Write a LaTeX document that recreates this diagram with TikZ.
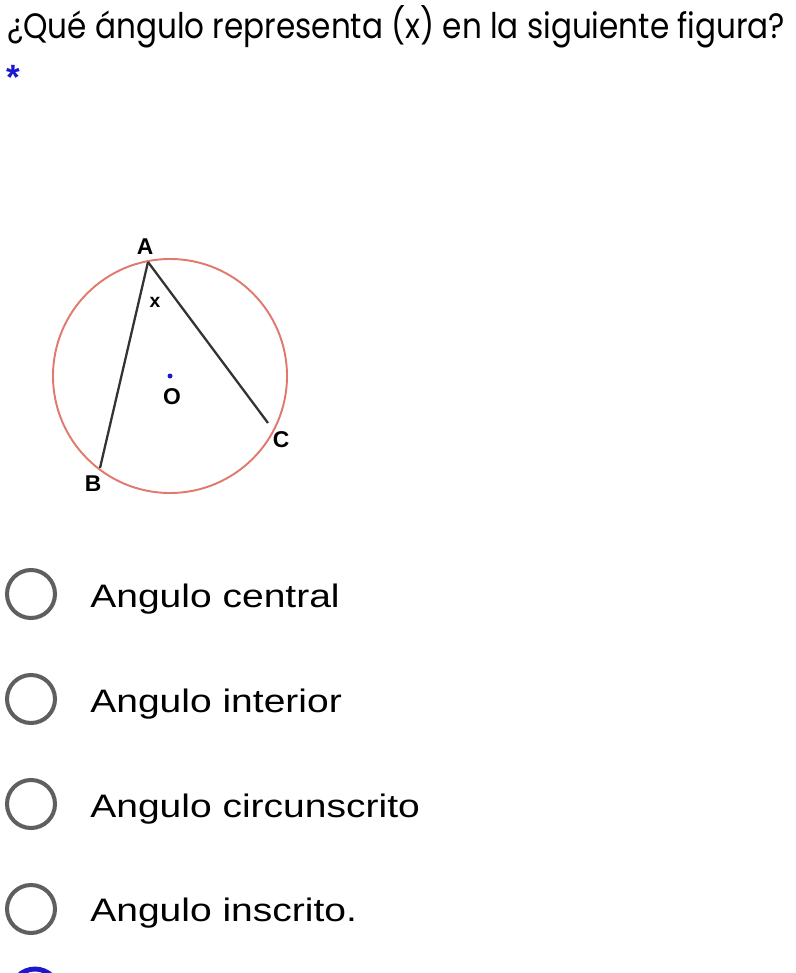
\documentclass[tikz,border=0pt]{standalone}
\usepackage{fontspec}
\setmainfont{Liberation Sans}
\newfontfamily\titlefont[FakeStretch=0.88]{Poppins}
\newfontfamily\optfont[FakeStretch=1.2]{Liberation Sans}
\usetikzlibrary{positioning}
\definecolor{arcred}{HTML}{E07A6E}
\definecolor{radiogray}{HTML}{5F5F5F}
\definecolor{formblue}{HTML}{1A1ACC}
\tikzset{
every node/.style = {inner sep = 0pt},
heading/.style = {anchor = base west, font = \titlefont\fontsize{16}{19}\selectfont},
option/.style = {anchor = base west, font = \optfont\fontsize{18.5}{21}\selectfont},
radio/.style = {circle, draw = radiogray, line width = 2.3pt, minimum size = 0.96cm},
vertex/.style = {font = \bfseries\fontsize{13}{15}\selectfont},
chord/.style = {draw = black!80, line width = 1.3pt},
}
\begin{document}
\begin{tikzpicture}[x = 0.02cm, y = -0.02cm]

%% Frame
\path [use as bounding box] (0, 0) rectangle (795, 973);
\clip (0, 0) rectangle (795, 973);

%% Question
\node [heading] (question) at (7, 39)
  {\resizebox{15.56cm}{!}{¿Qué ángulo representa (x) en la siguiente figura?}};
\node (star) at (13, 77) [text = formblue, font = \bfseries\fontsize{20}{20}\selectfont] {*};

%% Figure
\coordinate (O) at (170, 376);
\coordinate (A) at (148, 262);
\coordinate (B) at (100, 468);
\coordinate (C) at (268, 423);
\draw [arcred, line width = 1.1pt] (O) circle [radius = 117];
\path [chord] (A) -- (B);
\path [chord] (A) -- (C);
\fill [formblue] (O) circle [radius = 2.5];

% Labels
\node [vertex] (labA) at (145, 247) {A};
\node [vertex] (labB) at (93, 484) {B};
\node [vertex] (labC) at (281, 440) {C};
\node [vertex] (labO) at (172, 397) {O};
\node [font = \bfseries\fontsize{11}{13}\selectfont] (labx) at (155, 302) {x};

%% Options
\node [radio] (r1) at (31, 594) {};
\node [option] (o1) at (90, 607) {Angulo central};
\node [radio] (r2) at (31, 699) {};
\node [option] (o2) at (90, 712) {Angulo interior};
\node [radio] (r3) at (31, 804) {};
\node [option] (o3) at (90, 817) {Angulo circunscrito};
\node [radio] (r4) at (31, 909) {};
\node [option] (o4) at (90, 921) {Angulo inscrito.};
\node [radio, draw = formblue, line width = 2.8pt] (r5) at (35, 993) {};

\end{tikzpicture}
\end{document}
